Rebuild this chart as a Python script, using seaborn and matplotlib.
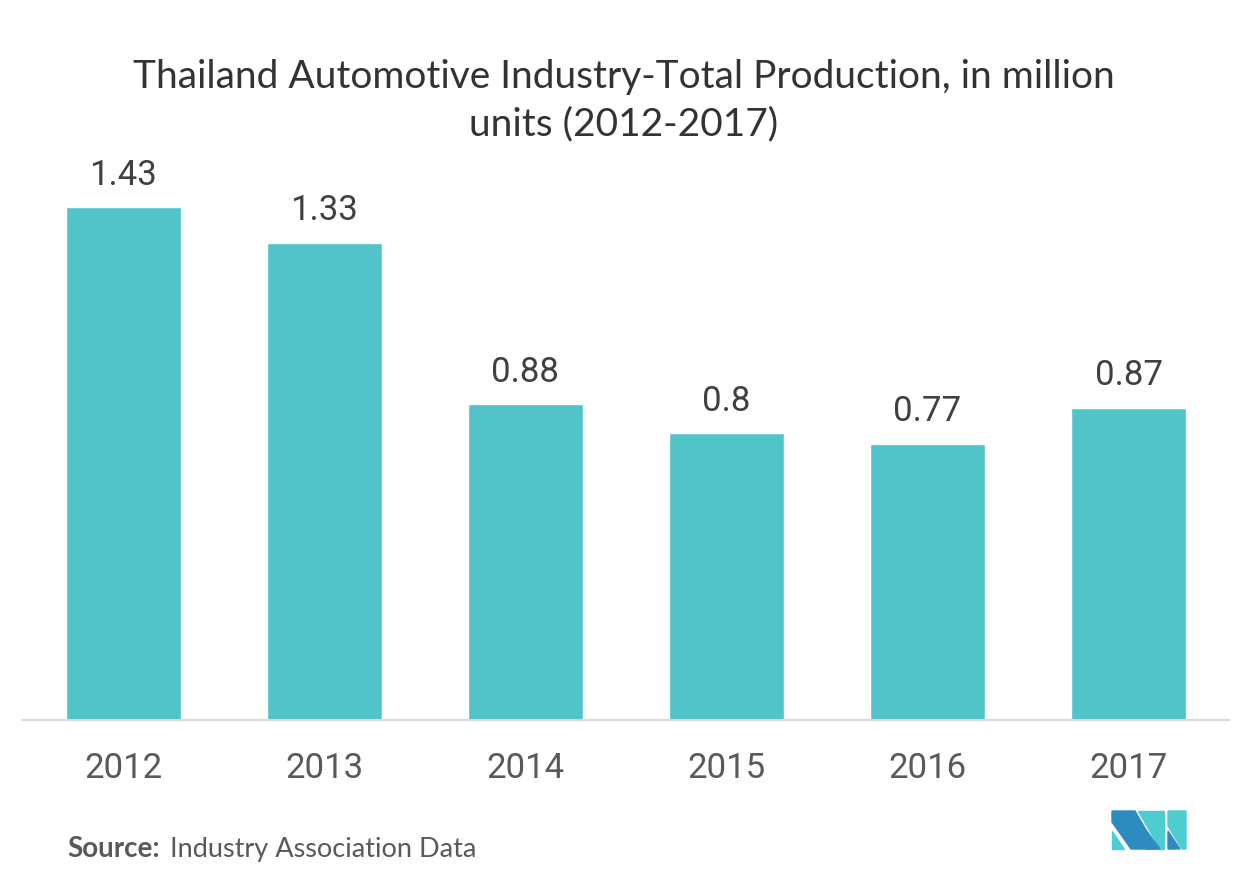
import pandas as pd
import seaborn as sns
import matplotlib.pyplot as plt
from matplotlib.patches import Polygon

years = ['2012', '2013', '2014', '2015', '2016', '2017']
production = [1.43, 1.33, 0.88, 0.8, 0.77, 0.87]
value_labels = ['1.43', '1.33', '0.88', '0.8', '0.77', '0.87']

df = pd.DataFrame({'Year': years, 'Production': production})

sns.set_style('white')
plt.rcParams['font.family'] = ['Lato', 'DejaVu Sans']

fig = plt.figure(figsize=(12.53, 8.82), dpi=100)
ax = fig.add_axes([0.018, 0.1837, 0.963, 0.6235])

sns.barplot(data=df, x='Year', y='Production', color='#51C4CA', saturation=1,
            width=0.572, ax=ax)

ax.set_xlim(-0.5, 5.5)
ax.set_ylim(0, 1.533)

# value labels over bars
for i, (v, lab) in enumerate(zip(production, value_labels)):
    ax.text(i, v + 0.043, lab, ha='center', va='bottom', fontsize=25,
            color='#404040', family='Roboto')

for s in ['top', 'right', 'left']:
    ax.spines[s].set_visible(False)
ax.spines['bottom'].set_color('#d9d9d9')
ax.spines['bottom'].set_linewidth(1.5)

ax.set_yticks([])
ax.set_xlabel('')
ax.set_ylabel('')
ax.tick_params(axis='x', length=0, pad=23)
for t in ax.get_xticklabels():
    t.set_fontsize(25)
    t.set_color('#595959')
    t.set_family('Roboto')

fig.text(0.498, 0.886, 'Thailand Automotive Industry-Total Production, in million\nunits (2012-2017)',
         ha='center', va='center', fontsize=28, color='#333333', linespacing=1.4)

fig.text(0.0535, 0.028, 'Source:', fontsize=20, fontweight='bold', color='#595959',
         ha='left', va='baseline')
fig.text(0.1357, 0.028, 'Industry Association Data', fontsize=19.5, color='#595959',
         ha='left', va='baseline')

# logo
def fx(px):
    return px / 1253


def fy(py):
    return 1 - py / 882


dark = '#2E8BC0'
light = '#4ECDD0'
shapes = [
    ([(1112, 831), (1112, 849), (1124, 849)], light),
    ([(1112, 811), (1135, 811), (1157, 849), (1131, 849), (1112, 822)], dark),
    ([(1138, 811), (1164, 811), (1164, 849), (1160, 849)], light),
    ([(1146, 830), (1160, 849), (1146, 849)], dark),
    ([(1168, 811), (1186, 811), (1186, 849), (1182, 849), (1168, 826)], light),
    ([(1168, 831), (1180, 849), (1168, 849)], dark),
]
for pts, c in shapes:
    fig.patches.append(Polygon([(fx(x), fy(y)) for x, y in pts], closed=True,
                               transform=fig.transFigure, color=c))

fig.savefig('out.png', dpi=100)
